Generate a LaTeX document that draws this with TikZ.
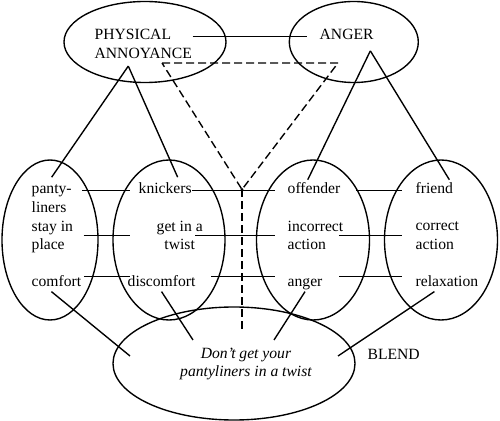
\documentclass[tikz,border=0pt]{standalone}
\usepackage{fontspec}
\setmainfont{Liberation Serif}
\usetikzlibrary{shapes.geometric}
\newcommand{\diagfont}{\fontsize{12.5}{15}\selectfont}
\begin{document}
\begin{tikzpicture}[x=0.8pt, y=-0.8pt, line width=1.1pt, font=\diagfont]
    \tikzstyle{space} = [shape=ellipse, draw, inner sep=0pt]
    \tikzstyle{word}  = [inner xsep=0pt, inner ysep=2pt, text height=1.5ex, text depth=.25ex, anchor=base west]
    \tikzstyle{words} = [inner xsep=0pt, inner ysep=2pt, anchor=west]
    \tikzstyle{frame} = [dash pattern=on 6.4pt off 3.2pt]

    \useasboundingbox (0, 0) rectangle (500, 421);

    % generic spaces
    \node[space, minimum width=129.6pt, minimum height=64.8pt] (physical) at (145, 42) {};
    \node[space, minimum width=103.2pt, minimum height=64.8pt] (angry) at (353.8, 42) {};
    \node[words, align=left] (pa) at (94, 43.9) {PHYSICAL\\ANNOYANCE};
    \node[word] (ag) at (319, 40) {ANGER};

    \draw[shorten >=9.6pt] (pa.east |- ag.west) -- (ag.west);

    % input spaces
    \node[space, minimum width=76.8pt, minimum height=128pt] (s1) at (50, 240) {};
    \node[space, minimum width=89.6pt, minimum height=128pt] (s2) at (169, 240) {};
    \node[space, minimum width=90.4pt, minimum height=128pt] (s3) at (313, 240) {};
    \node[space, minimum width=90.4pt, minimum height=128pt] (s4) at (441, 240) {};

        \node[word] (pt) at (31, 194) {panty-};
        \node[word] (ln) at (31, 213) {liners};
        \node[words, align=left] (sp) at (31, 237) {stay in\\place};
        \node[word] (cf) at (31, 287) {comfort};

        \node[word] (kn) at (138, 194) {knickers};
        \node[words, align=center] (gt) at (156, 235.4) {get in a\\twist};
        \node[word] (dc) at (127, 287) {discomfort};

        \node[word] (of) at (287, 194) {offender};
        \node[words, align=left] (ia) at (287, 235.4) {incorrect\\action};
        \node[word] (an) at (287, 287) {anger};

        \node[word] (fr) at (415, 194) {friend};
        \node[words, align=left] (ca) at (415, 235.4) {correct\\action};
        \node[word] (rl) at (415, 287) {relaxation};

    % cross-space mappings
    \draw[shorten <=8pt, shorten >=6.4pt]   (pt.east) -- (kn.west);
    \draw[shorten >=9.6pt]                  (kn.east) -- (of.west);
    \draw[shorten <=12pt, shorten >=10.4pt] (of.east) -- (fr.west);

    \draw[shorten <=8pt, shorten >=20.8pt]  (gt.west -| sp.east) -- (gt.west);
    \draw[shorten <=-6.4pt, shorten >=9.6pt] (gt.east) -- (ia.west);
    \draw[shorten <=-4pt, shorten >=10.4pt] (ia.east) -- (ca.west);

    \draw[shorten <=1.6pt, shorten >=-2.4pt] ([yshift=5.6pt]cf.east) -- ([yshift=5.6pt]dc.west);
    \draw[shorten <=12pt, shorten >=9.6pt]   ([yshift=5.6pt]dc.east) -- ([yshift=5.6pt]an.west);
    \draw[shorten <=12.8pt, shorten >=10.4pt] ([yshift=5.6pt]an.east) -- ([yshift=5.6pt]rl.west);

    % generic space to inputs
    \coordinate (pafoot) at ([shift={(-12pt,-3.5pt)}]pa.south);
    \coordinate (agfoot) at ([shift={(19pt,-5pt)}]ag.south);
    \draw (pafoot) -- ([yshift=4pt]pt.north);
    \draw (pafoot) -- ([shift={(10pt,4pt)}]kn.north);
    \draw (agfoot) -- ([shift={(-5pt,2pt)}]of.north);
    \draw (agfoot) -- ([shift={(12pt,2pt)}]fr.north);

    % dashed frame
    \coordinate (dl)   at (162, 63);
    \coordinate (dr)   at (338, 63);
    \coordinate (apex) at (242, 189.5);
    \coordinate (dend) at (242, 333);
    \draw[frame] (dl) -- (dr) -- (apex) -- cycle;
    \draw[frame] (apex) -- (dend);
    \fill (apex) circle (1.2pt);

    % blend
    \node[space, minimum width=193.6pt, minimum height=90.4pt] (blend) at (234, 363.5) {};
    \node[align=center, inner sep=0pt, font=\diagfont\itshape] (bt) at (246, 363.9)
        {Don't get your\\pantyliners in a twist};
    \node[word] (bl) at (367, 360) {BLEND};

    \coordinate (b1) at (130, 356);
    \coordinate (b2) at (193, 340);
    \coordinate (b3) at (274, 340);
    \coordinate (b4) at (338, 356);
    \draw ([xshift=-4pt]cf.south) -- (b1);
    \draw (dc.south) -- (b2);
    \draw (an.south) -- (b3);
    \draw ([xshift=-10pt]rl.south) -- (b4);

\end{tikzpicture}
\end{document}
